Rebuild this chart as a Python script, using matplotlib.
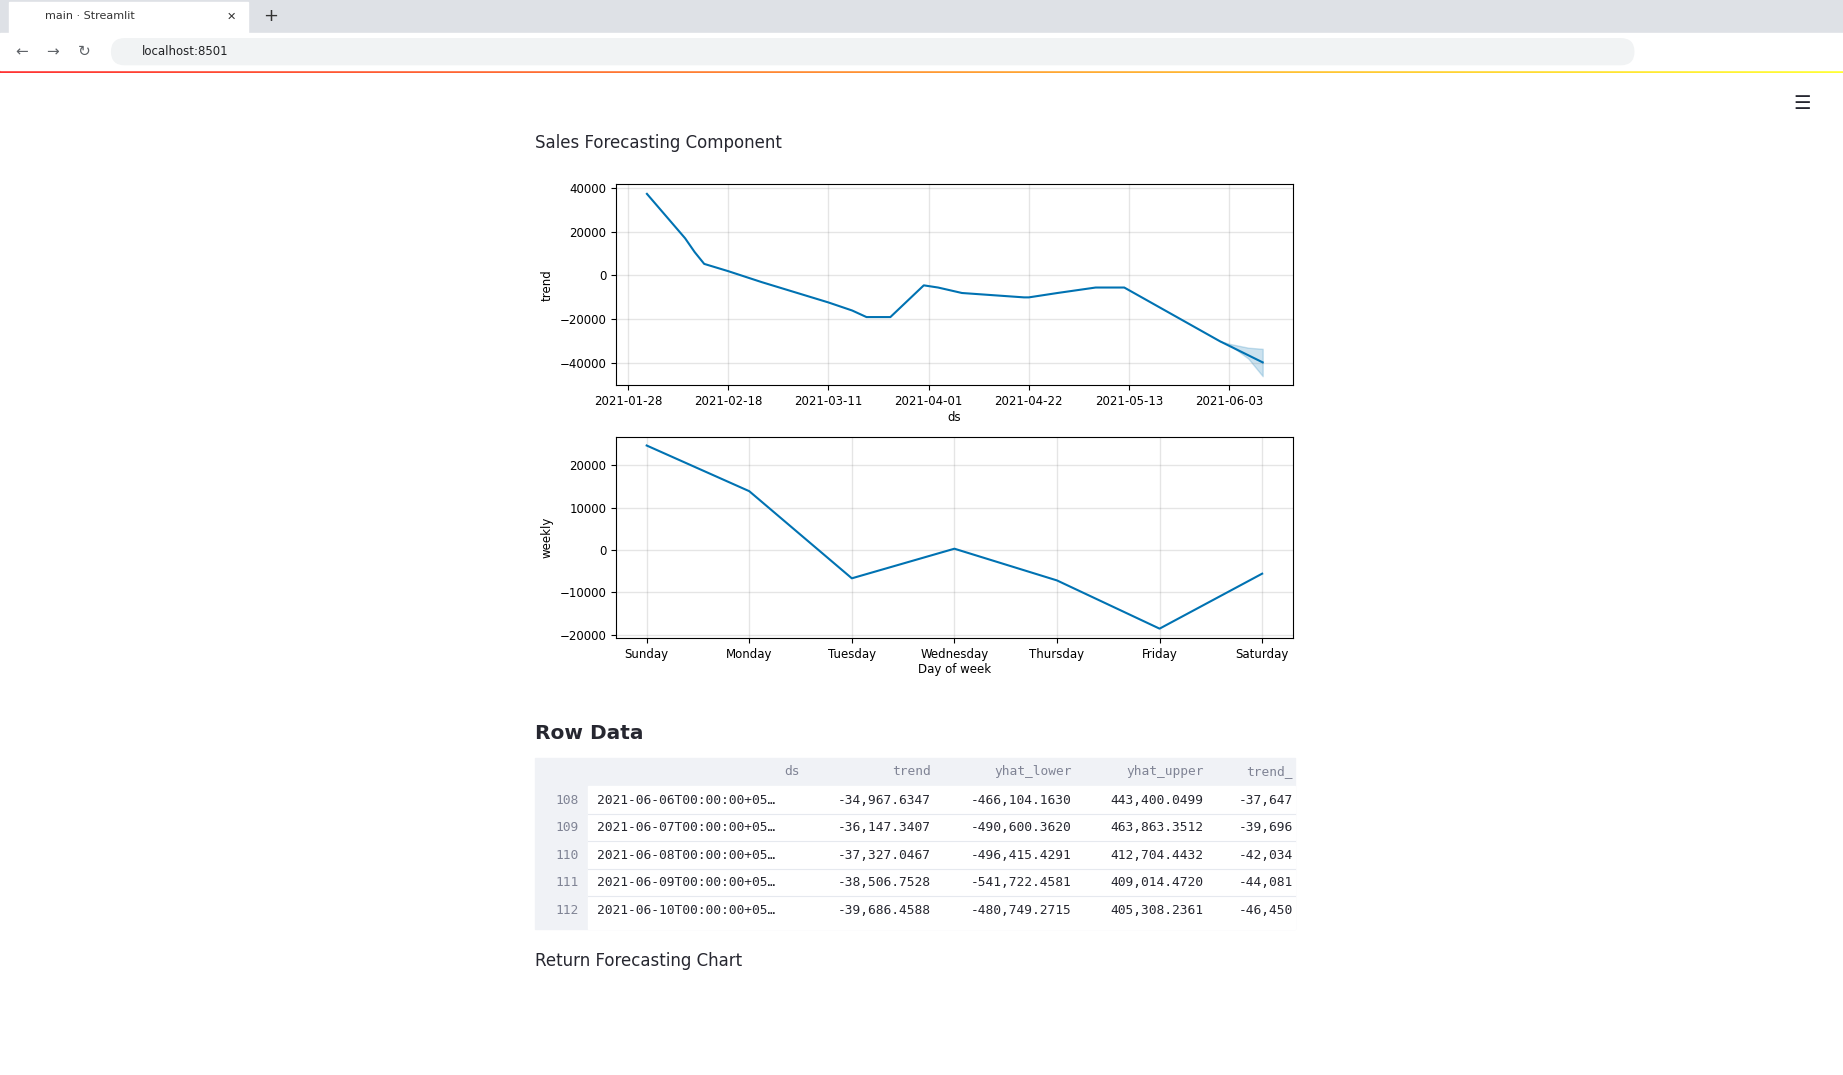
import matplotlib.pyplot as plt
import matplotlib.dates as mdates
import numpy as np
import pandas as pd
from matplotlib.patches import Rectangle, FancyBboxPatch

# page layout is measured on a 1568 x 915 grid
W, H = 1568, 915

trend_dates = pd.to_datetime([
    "2021-02-01", "2021-02-09", "2021-02-11", "2021-02-13", "2021-02-18",
    "2021-02-25", "2021-03-11", "2021-03-16", "2021-03-19", "2021-03-24",
    "2021-03-31", "2021-04-03", "2021-04-08", "2021-04-21", "2021-04-22",
    "2021-04-28", "2021-05-06", "2021-05-12", "2021-06-01", "2021-06-10",
])
trend_values = [37300, 17000, 10700, 5300, 2000, -3000, -12300, -16000, -19000, -19000,
                -4500, -5500, -8000, -10000, -10000, -8000, -5500, -5500, -30000, -39700]
band_dates = pd.to_datetime(["2021-06-01", "2021-06-03", "2021-06-07", "2021-06-10"])
band_lower = [-30000, -31500, -38000, -46000]
band_upper = [-30000, -31200, -33000, -33500]
trend_ticks = pd.to_datetime(["2021-01-28", "2021-02-18", "2021-03-11", "2021-04-01",
                              "2021-04-22", "2021-05-13", "2021-06-03"])

days = ["Sunday", "Monday", "Tuesday", "Wednesday", "Thursday", "Friday", "Saturday"]
weekly_values = [24700, 13900, -6700, 300, -7200, -18600, -5600]

table_cols = ["ds", "trend", "yhat_lower", "yhat_upper", "trend_"]
table_index = ["108", "109", "110", "111", "112"]
table_ds = ["2021-06-06T00:00:00+05…", "2021-06-07T00:00:00+05…", "2021-06-08T00:00:00+05…",
            "2021-06-09T00:00:00+05…", "2021-06-10T00:00:00+05…"]
table_trend = ["-34,967.6347", "-36,147.3407", "-37,327.0467", "-38,506.7528", "-39,686.4588"]
table_lower = ["-466,104.1630", "-490,600.3620", "-496,415.4291", "-541,722.4581", "-480,749.2715"]
table_upper = ["443,400.0499", "463,863.3512", "412,704.4432", "409,014.4720", "405,308.2361"]
table_tr2 = ["-37,647", "-39,696", "-42,034", "-44,081", "-46,450"]

LINE = "#0072B2"

fig = plt.figure(figsize=(18.43, 10.75), dpi=100)
bg = fig.add_axes([0, 0, 1, 1])
bg.set_xlim(0, W)
bg.set_ylim(H, 0)
bg.axis("off")

# browser chrome
bg.add_patch(Rectangle((0, 0), W, 28, color="#dee1e6"))
bg.add_patch(Rectangle((8, 2), 203, 26, color="white"))
bg.text(38, 14, "main · Streamlit", fontsize=8, va="center", color="#333")
bg.text(197, 14, "✕", fontsize=8, va="center", ha="center", color="#333")
bg.text(230, 14, "+", fontsize=13, va="center", ha="center", color="#333")
bg.add_patch(Rectangle((0, 28), W, 32, color="white"))
bg.add_patch(FancyBboxPatch((95, 33), 1295, 22, boxstyle="round,pad=0,rounding_size=11",
                            color="#f1f3f4"))
bg.text(121, 44, "localhost:8501", fontsize=8.5, va="center", color="#202124")
for x, s in [(18, "←"), (45, "→"), (72, "↻")]:
    bg.text(x, 44, s, fontsize=11, va="center", ha="center", color="#5f6368")
grad = np.linspace(0, 1, 256)[None, :]
bg.imshow(grad, extent=(0, W, 62, 60), aspect="auto", cmap="autumn", alpha=0.8)
bg.text(1533, 88, "☰", fontsize=14, va="center", ha="center", color="#262730")

# page text
bg.text(455, 122, "Sales Forecasting Component", fontsize=12, va="center", color="#262730")
bg.text(455, 624, "Row Data", fontsize=14.5, weight="bold", va="center", color="#262730")
bg.text(455, 818, "Return Forecasting Chart", fontsize=12, va="center", color="#262730")

# table
bg.add_patch(Rectangle((455, 645), 647, 146, color="#f0f2f6"))
bg.add_patch(Rectangle((500, 669), 602, 122, color="white"))
col_right = [680, 792, 912, 1024, 1100]
mono = dict(family="DejaVu Sans Mono", fontsize=9.3, va="center")
for cx, name in zip(col_right, table_cols):
    bg.text(cx, 657, name, ha="right", color="#808495", **mono)
for i in range(len(table_index)):
    y = 681 + i * 23.4
    bg.text(492, y, table_index[i], ha="right", color="#808495", **mono)
    bg.text(508, y, table_ds[i], ha="left", color="#262730", **mono)
    for cx, vals in zip(col_right[1:], [table_trend, table_lower, table_upper, table_tr2]):
        bg.text(cx, y, vals[i], ha="right", color="#262730", **mono)
    if i:
        bg.plot([500, 1102], [y - 11.7, y - 11.7], color="#e6e9ef", lw=0.8)


def page_axes(x0, y0, x1, y1):
    return fig.add_axes([x0 / W, 1 - y1 / H, (x1 - x0) / W, (y1 - y0) / H])


ax1 = page_axes(524, 157, 1100, 328)
ax1.plot(trend_dates, trend_values, color=LINE, lw=1.5)
ax1.fill_between(band_dates, band_lower, band_upper, color=LINE, alpha=0.2)
ax1.set_xlim(pd.Timestamp("2021-01-25 12:00"), pd.Timestamp("2021-06-16 08:00"))
ax1.set_ylim(-50200, 41600)
ax1.set_xticks(trend_ticks)
ax1.xaxis.set_major_formatter(mdates.DateFormatter("%Y-%m-%d"))
ax1.set_yticks([-40000, -20000, 0, 20000, 40000])
ax1.set_ylabel("trend", fontsize=8.5)
ax1.set_xlabel("ds", fontsize=8.5, labelpad=2)

ax2 = page_axes(524, 372, 1100, 543)
ax2.plot(range(len(days)), weekly_values, color=LINE, lw=1.5)
ax2.set_xlim(-0.3, 6.3)
ax2.set_ylim(-20800, 26700)
ax2.set_xticks(range(len(days)))
ax2.set_xticklabels(days)
ax2.set_yticks([-20000, -10000, 0, 10000, 20000])
ax2.set_ylabel("weekly", fontsize=8.5)
ax2.set_xlabel("Day of week", fontsize=8.5, labelpad=2)

for ax in (ax1, ax2):
    ax.grid(True, color="gray", alpha=0.2, lw=1)
    ax.tick_params(labelsize=8.5)
    ax.yaxis.set_major_formatter(plt.FuncFormatter(lambda v, p: f"{int(v)}".replace("-", "−")))

fig.savefig("out.png", dpi=100)
